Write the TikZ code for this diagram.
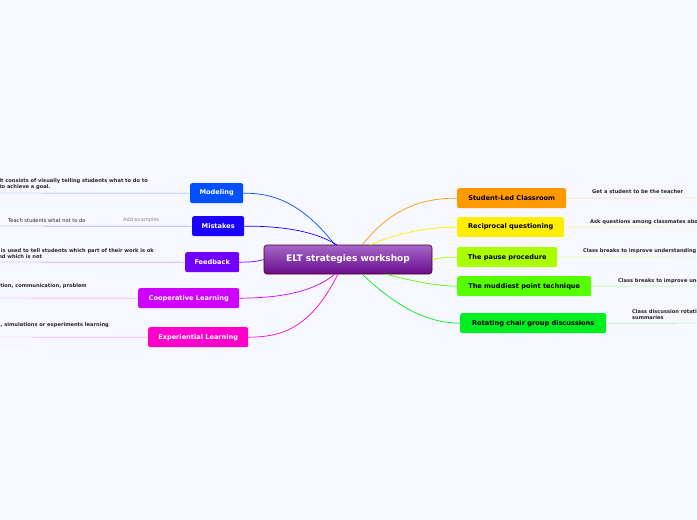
\documentclass[tikz,border=0pt]{standalone}
\usepackage{fontspec}
\setmainfont{DejaVu Sans}
\begin{document}
\begin{tikzpicture}[x=1pt,y=-1pt,
  box/.style={rounded corners=2pt,inner sep=0pt,anchor=north west},
  lab/.style={font=\bfseries\fontsize{6.6}{7.5}\selectfont},
  note/.style={font=\bfseries\fontsize{5.1}{6}\selectfont,inner sep=0pt,text=black!85},
  con/.style={line width=0.7pt}]
\fill[blue!3!white] (0,0) rectangle (697,520);
\useasboundingbox (0,0) rectangle (697,520);
\clip (0,0) rectangle (697,520);
\definecolor{cmod}{HTML}{0050FF}\definecolor{cmis}{HTML}{1A00FF}\definecolor{cfee}{HTML}{7000FF}
\definecolor{ccoo}{HTML}{D000FF}\definecolor{cexp}{HTML}{FF00CC}
\definecolor{cstu}{HTML}{FF9900}\definecolor{crec}{HTML}{FFEE00}\definecolor{cpau}{HTML}{AAFF00}
\definecolor{cmud}{HTML}{55FF00}\definecolor{crot}{HTML}{00EE22}
\definecolor{ctop}{HTML}{A566C9}\definecolor{cbot}{HTML}{6A0C8C}
% central
\node[draw=black!60!purple,line width=0.6pt,rounded corners=3pt,top color=ctop,bottom color=cbot,minimum width=168pt,minimum height=29pt,text=white,font=\bfseries\fontsize{9}{10}\selectfont] (c) at (348,259.5) {ELT strategies workshop};
% left nodes
\node[box,fill=cmod,minimum width=53pt,minimum height=20pt] (mod) at (190,183) {};
\node[lab,text=white] at (mod.center) {Modeling};
\node[box,fill=cmis,minimum width=52pt,minimum height=20pt] (mis) at (192,216) {};
\node[lab,text=white] at (mis.center) {Mistakes};
\node[box,fill=cfee,minimum width=54pt,minimum height=20pt] (fee) at (185,252) {};
\node[lab,text=white] at (fee.center) {Feedback};
\node[box,fill=ccoo,minimum width=101pt,minimum height=20pt] (coo) at (138,288) {};
\node[lab,text=white] at (coo.center) {Cooperative Learning};
\node[box,fill=cexp,minimum width=100pt,minimum height=20pt] (exp) at (148,327) {};
\node[lab,text=white] at (exp.center) {Experiential Learning};
% right nodes
\node[box,fill=cstu,minimum width=109pt,minimum height=20pt] (stu) at (457,188) {};
\node[lab] at (stu.center) {Student-Led Classroom};
\node[box,fill=crec,minimum width=107pt,minimum height=20pt] (rec) at (457,217) {};
\node[lab] at (rec.center) {Reciprocal questioning};
\node[box,fill=cpau,minimum width=100pt,minimum height=20pt] (pau) at (457,247) {};
\node[lab] at (pau.center) {The pause procedure};
\node[box,fill=cmud,minimum width=134pt,minimum height=20pt] (mud) at (457,276) {};
\node[lab] at (mud.center) {The muddiest point technique};
\node[box,fill=crot,minimum width=146pt,minimum height=20pt] (rot) at (460,313) {};
\node[lab] at (rot.center) {Rotating chair group discussions};
% connectors
\draw[con,cmod] (335,245) .. controls (300,200) and (270,193) .. (mod.east);
\draw[con,cmis] (337,245) .. controls (310,228) and (270,226) .. (mis.east);
\draw[con,cfee] (c.west) .. controls (255,262) and (250,262) .. (fee.east);
\draw[con,ccoo] (335,274) .. controls (310,295) and (270,298) .. (coo.east);
\draw[con,cexp] (338,274) .. controls (310,330) and (280,337) .. (exp.east);
\draw[con,cstu] (362,245) .. controls (390,210) and (420,198) .. (stu.west);
\draw[con,crec] (370,245) .. controls (400,232) and (430,227) .. (rec.west);
\draw[con,cpau] (c.east) .. controls (440,258) and (445,257) .. (pau.west);
\draw[con,cmud] (385,274) .. controls (420,283) and (440,286) .. (mud.west);
\draw[con,crot] (362,274) .. controls (400,310) and (430,323) .. (rot.west);
% leaf lines
\coordinate (l1) at (0,193);\coordinate (l2) at (0,226);\coordinate (l3) at (0,262);\coordinate (l4) at (0,298);\coordinate (l5) at (0,337);
\draw[cmod!50] (mod.west) -- (l1);
\draw[cmis!55] (mis.west) -- (l2);
\draw[cfee!55] (fee.west) -- (l3);
\draw[ccoo!45] (coo.west) -- (l4);
\draw[cexp!45] (exp.west) -- (l5);
\coordinate (r1) at (697,198);\coordinate (r2) at (697,227);\coordinate (r3) at (697,257);\coordinate (r4) at (697,286);\coordinate (r5) at (697,323);
\draw[cstu!45] (stu.east) -- (r1);
\draw[crec!50] (rec.east) -- (r2);
\draw[cpau!55] (pau.east) -- (r3);
\draw[cmud!55] (mud.east) -- (r4);
\draw[crot!55] (rot.east) -- (r5);
% leaf texts
\node[note,align=left,anchor=south east] (t1) at (148,190) {It consists of visually telling students what to do to\\to achieve a goal.};
\node[note,anchor=south west,font=\fontsize{5.1}{6}\selectfont] (t2) at (8,223) {Teach students what not to do};
\node[note,anchor=south west,font=\fontsize{5.1}{6}\selectfont,text=black!45] (t2b) at (123,223) {Add examples};
\node[note,align=left,anchor=south east] (t3) at (154,259) {It is used to tell students which part of their work is ok\\and which is not};
\node[note,anchor=south east] (t4) at (87,289) {It improves collaboration, communication, problem};
\node[note,anchor=south east] (t5) at (109,328) {Games, simulations or experiments learning};
\node[note,anchor=south west] (t6) at (592,194) {Get a student to be the teacher};
\node[note,anchor=south west] (t7) at (590,225) {Ask questions among classmates about};
\node[note,anchor=south west] (t8) at (583,254) {Class breaks to improve understanding};
\node[note,anchor=south west] (t9) at (618,284) {Class breaks to improve understanding};
\node[note,align=left,anchor=south west] (t10) at (632,320) {Class discussion rotating\\summaries};
\end{tikzpicture}
\end{document}
